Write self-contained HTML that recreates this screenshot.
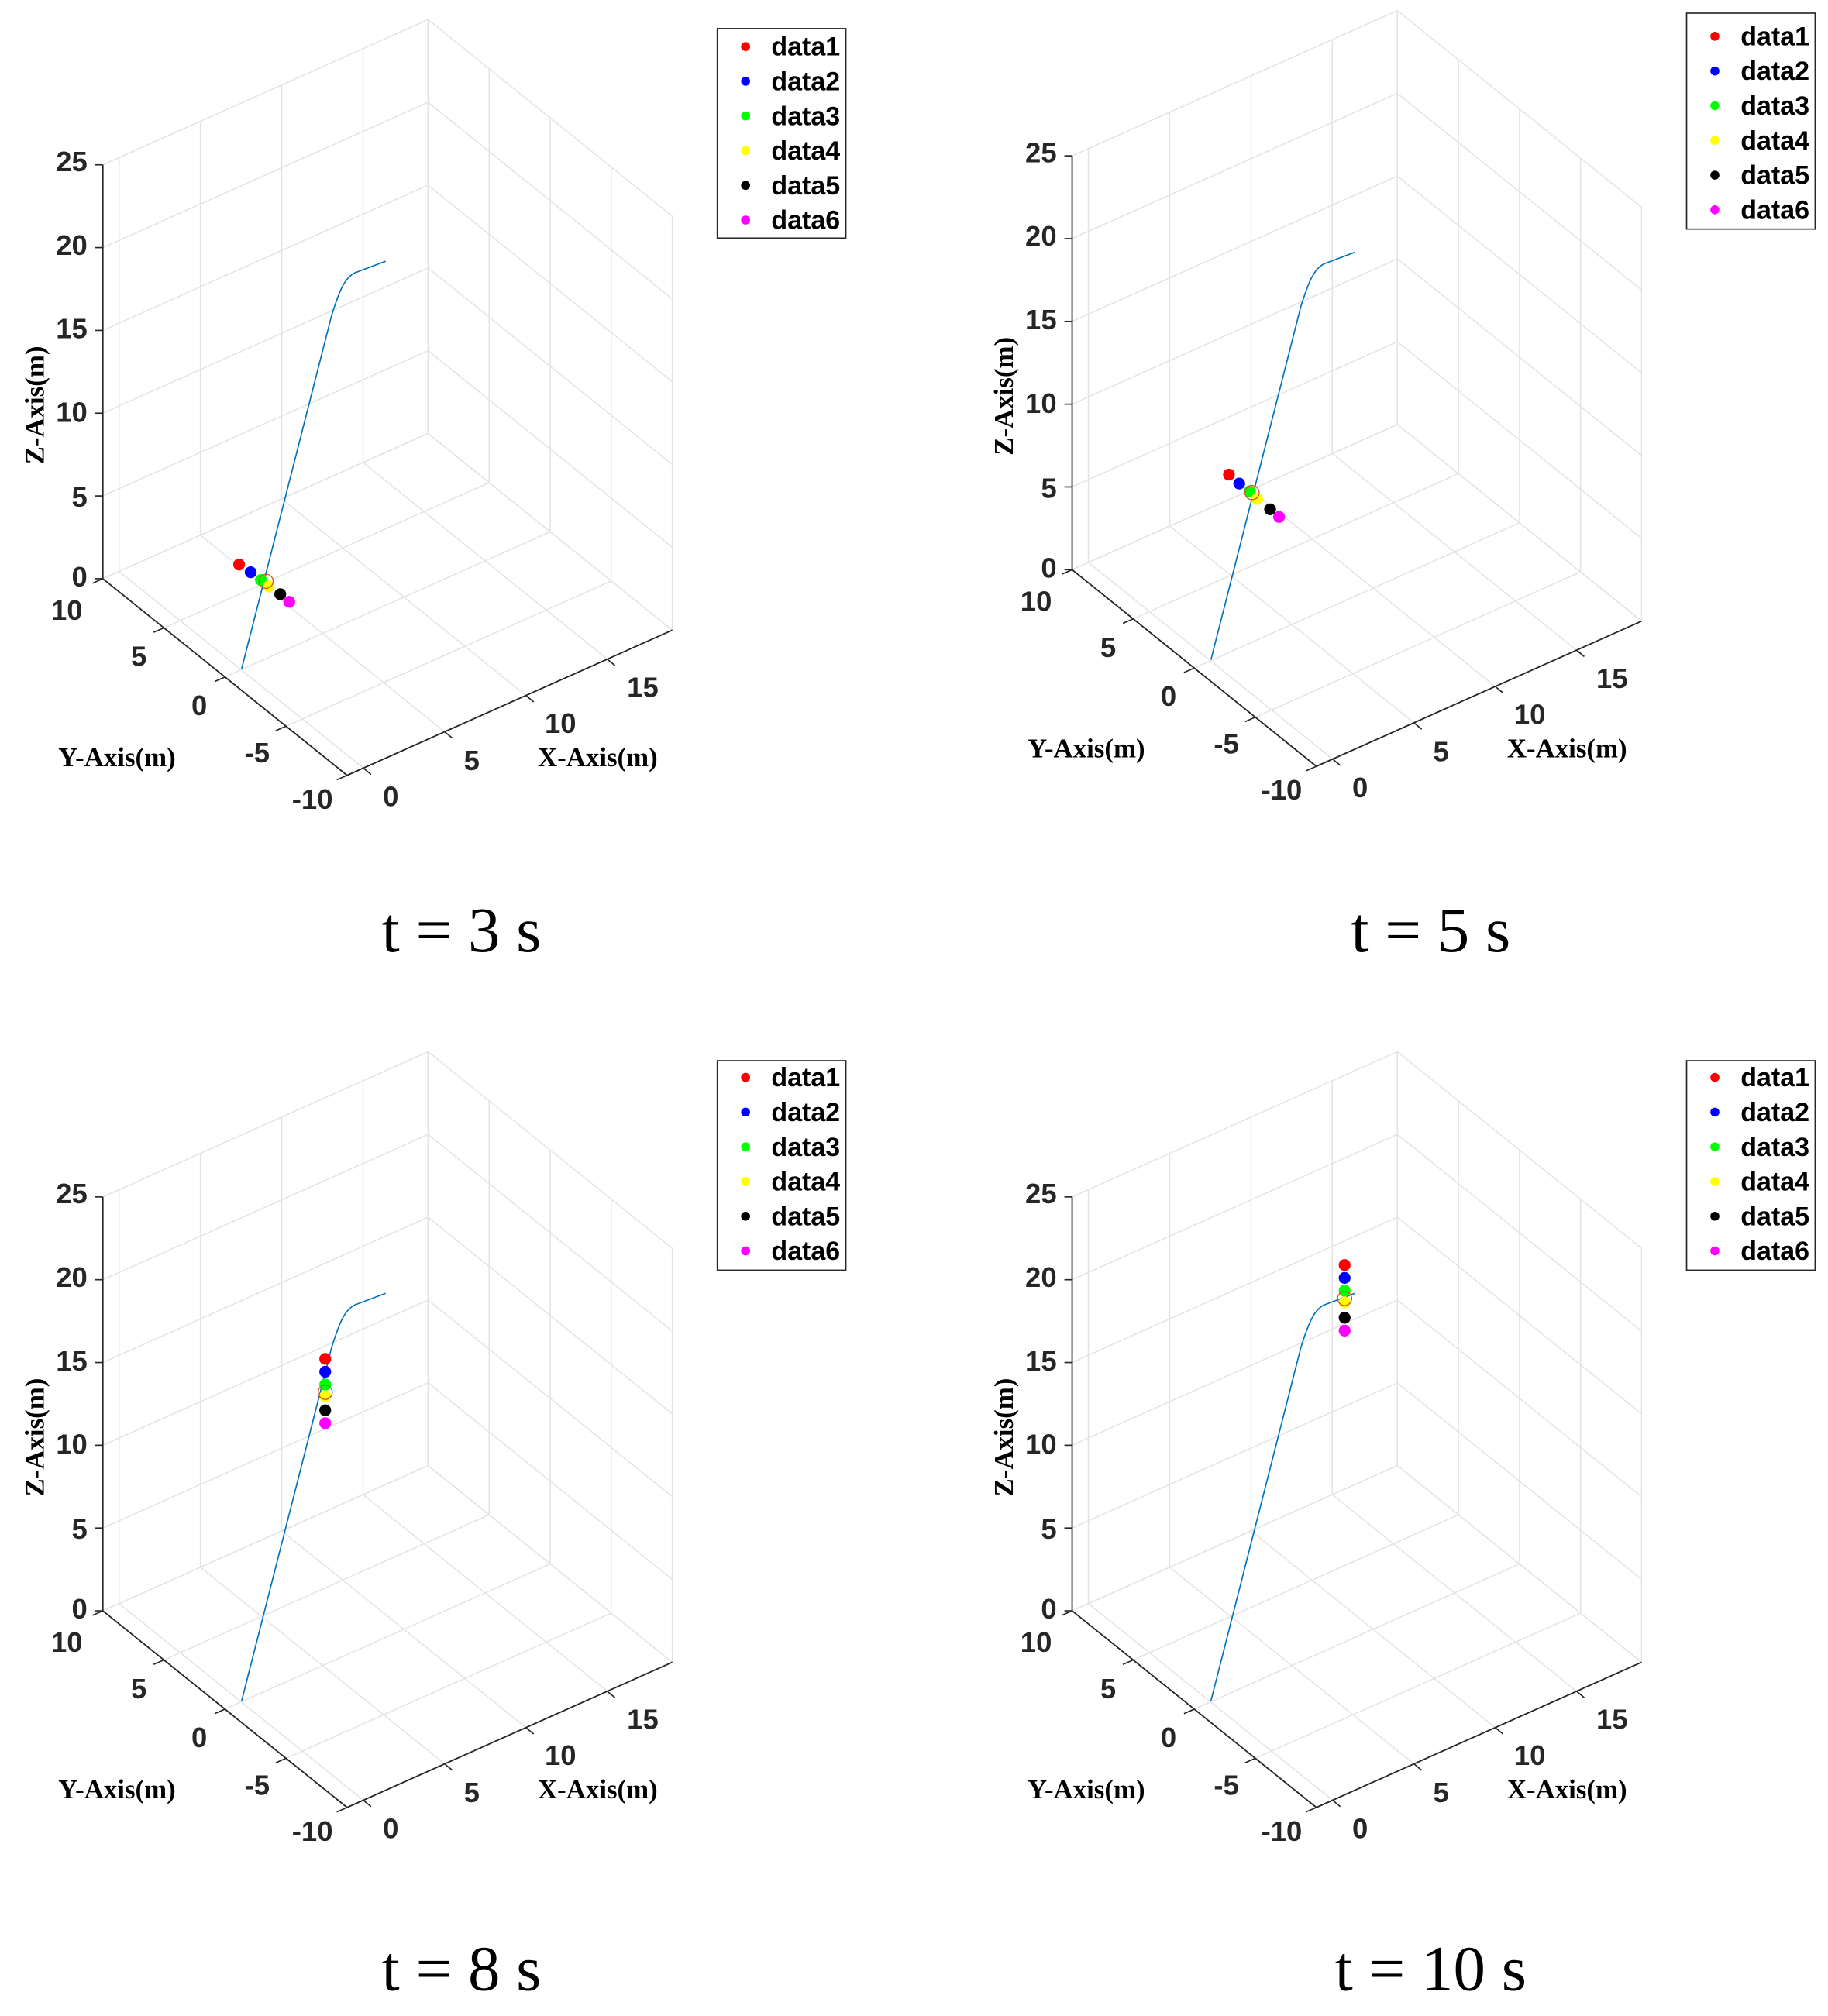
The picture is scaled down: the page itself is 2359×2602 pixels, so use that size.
<!DOCTYPE html>
<html><head><meta charset="utf-8"><style>
html,body{margin:0;padding:0;background:#fff;}
svg{display:block;}
.tk{font-family:"Liberation Sans",sans-serif;font-weight:bold;font-size:22px;fill:#262626;}
.al{font-family:"Liberation Serif",serif;font-weight:bold;font-size:21px;fill:#000;}
.lg{font-family:"Liberation Sans",sans-serif;font-weight:bold;font-size:20.5px;fill:#000;}
.ti{font-family:"Liberation Serif",serif;font-size:50px;fill:#000;}
</style></head><body>
<svg id="s" width="2359" height="2602" viewBox="0 0 1422 1568" xmlns="http://www.w3.org/2000/svg">
<g id="grids"></g>
<g transform="translate(0,0)">
<text class="tk" x="68" y="133" text-anchor="end">25</text>
<text class="tk" x="68" y="198" text-anchor="end">20</text>
<text class="tk" x="68" y="263" text-anchor="end">15</text>
<text class="tk" x="68" y="328" text-anchor="end">10</text>
<text class="tk" x="68" y="394" text-anchor="end">5</text>
<text class="tk" x="68" y="456" text-anchor="end">0</text>
<text class="tk" x="52" y="482" text-anchor="middle">10</text>
<text class="tk" x="108" y="518" text-anchor="middle">5</text>
<text class="tk" x="155" y="556" text-anchor="middle">0</text>
<text class="tk" x="200" y="593" text-anchor="middle">-5</text>
<text class="tk" x="243" y="629" text-anchor="middle">-10</text>
<text class="tk" x="304" y="627" text-anchor="middle">0</text>
<text class="tk" x="367" y="599" text-anchor="middle">5</text>
<text class="tk" x="436" y="570" text-anchor="middle">10</text>
<text class="tk" x="500" y="542" text-anchor="middle">15</text>
<text class="al" x="91" y="596" text-anchor="middle">Y-Axis(m)</text>
<text class="al" x="465" y="596" text-anchor="middle">X-Axis(m)</text>
<text class="al" transform="translate(34,315) rotate(-90)" text-anchor="middle">Z-Axis(m)</text>
<text class="ti" x="359" y="740" text-anchor="middle">t = 3 s</text>
</g>
<g transform="translate(754,-7)">
<text class="tk" x="68" y="133" text-anchor="end">25</text>
<text class="tk" x="68" y="198" text-anchor="end">20</text>
<text class="tk" x="68" y="263" text-anchor="end">15</text>
<text class="tk" x="68" y="328" text-anchor="end">10</text>
<text class="tk" x="68" y="394" text-anchor="end">5</text>
<text class="tk" x="68" y="456" text-anchor="end">0</text>
<text class="tk" x="52" y="482" text-anchor="middle">10</text>
<text class="tk" x="108" y="518" text-anchor="middle">5</text>
<text class="tk" x="155" y="556" text-anchor="middle">0</text>
<text class="tk" x="200" y="593" text-anchor="middle">-5</text>
<text class="tk" x="243" y="629" text-anchor="middle">-10</text>
<text class="tk" x="304" y="627" text-anchor="middle">0</text>
<text class="tk" x="367" y="599" text-anchor="middle">5</text>
<text class="tk" x="436" y="570" text-anchor="middle">10</text>
<text class="tk" x="500" y="542" text-anchor="middle">15</text>
<text class="al" x="91" y="596" text-anchor="middle">Y-Axis(m)</text>
<text class="al" x="465" y="596" text-anchor="middle">X-Axis(m)</text>
<text class="al" transform="translate(34,315) rotate(-90)" text-anchor="middle">Z-Axis(m)</text>
<text class="ti" x="359" y="747" text-anchor="middle">t = 5 s</text>
</g>
<g transform="translate(0,803)">
<text class="tk" x="68" y="133" text-anchor="end">25</text>
<text class="tk" x="68" y="198" text-anchor="end">20</text>
<text class="tk" x="68" y="263" text-anchor="end">15</text>
<text class="tk" x="68" y="328" text-anchor="end">10</text>
<text class="tk" x="68" y="394" text-anchor="end">5</text>
<text class="tk" x="68" y="456" text-anchor="end">0</text>
<text class="tk" x="52" y="482" text-anchor="middle">10</text>
<text class="tk" x="108" y="518" text-anchor="middle">5</text>
<text class="tk" x="155" y="556" text-anchor="middle">0</text>
<text class="tk" x="200" y="593" text-anchor="middle">-5</text>
<text class="tk" x="243" y="629" text-anchor="middle">-10</text>
<text class="tk" x="304" y="627" text-anchor="middle">0</text>
<text class="tk" x="367" y="599" text-anchor="middle">5</text>
<text class="tk" x="436" y="570" text-anchor="middle">10</text>
<text class="tk" x="500" y="542" text-anchor="middle">15</text>
<text class="al" x="91" y="596" text-anchor="middle">Y-Axis(m)</text>
<text class="al" x="465" y="596" text-anchor="middle">X-Axis(m)</text>
<text class="al" transform="translate(34,315) rotate(-90)" text-anchor="middle">Z-Axis(m)</text>
<text class="ti" x="359" y="745" text-anchor="middle">t = 8 s</text>
</g>
<g transform="translate(754,803)">
<text class="tk" x="68" y="133" text-anchor="end">25</text>
<text class="tk" x="68" y="198" text-anchor="end">20</text>
<text class="tk" x="68" y="263" text-anchor="end">15</text>
<text class="tk" x="68" y="328" text-anchor="end">10</text>
<text class="tk" x="68" y="394" text-anchor="end">5</text>
<text class="tk" x="68" y="456" text-anchor="end">0</text>
<text class="tk" x="52" y="482" text-anchor="middle">10</text>
<text class="tk" x="108" y="518" text-anchor="middle">5</text>
<text class="tk" x="155" y="556" text-anchor="middle">0</text>
<text class="tk" x="200" y="593" text-anchor="middle">-5</text>
<text class="tk" x="243" y="629" text-anchor="middle">-10</text>
<text class="tk" x="304" y="627" text-anchor="middle">0</text>
<text class="tk" x="367" y="599" text-anchor="middle">5</text>
<text class="tk" x="436" y="570" text-anchor="middle">10</text>
<text class="tk" x="500" y="542" text-anchor="middle">15</text>
<text class="al" x="91" y="596" text-anchor="middle">Y-Axis(m)</text>
<text class="al" x="465" y="596" text-anchor="middle">X-Axis(m)</text>
<text class="al" transform="translate(34,315) rotate(-90)" text-anchor="middle">Z-Axis(m)</text>
<text class="ti" x="359" y="745" text-anchor="middle">t = 10 s</text>
</g>
<g transform="translate(558,22)">
<rect x="0" y="0" width="100" height="163" fill="#fff" stroke="#262626" stroke-width="1"/>
<circle cx="22" cy="14" r="3.5" fill="#f00"/><text class="lg" x="42" y="21">data1</text>
<circle cx="22" cy="41" r="3.5" fill="#00f"/><text class="lg" x="42" y="48">data2</text>
<circle cx="22" cy="68" r="3.5" fill="#0f0"/><text class="lg" x="42" y="75">data3</text>
<circle cx="22" cy="95" r="3.5" fill="#ff0"/><text class="lg" x="42" y="102">data4</text>
<circle cx="22" cy="122" r="3.5" fill="#000"/><text class="lg" x="42" y="129">data5</text>
<circle cx="22" cy="149" r="3.5" fill="#f0f"/><text class="lg" x="42" y="156">data6</text>
</g>
<g transform="translate(1312,10)">
<rect x="0" y="0" width="100" height="168" fill="#fff" stroke="#262626" stroke-width="1"/>
<circle cx="22" cy="18" r="3.5" fill="#f00"/><text class="lg" x="42" y="25">data1</text>
<circle cx="22" cy="45" r="3.5" fill="#00f"/><text class="lg" x="42" y="52">data2</text>
<circle cx="22" cy="72" r="3.5" fill="#0f0"/><text class="lg" x="42" y="79">data3</text>
<circle cx="22" cy="99" r="3.5" fill="#ff0"/><text class="lg" x="42" y="106">data4</text>
<circle cx="22" cy="126" r="3.5" fill="#000"/><text class="lg" x="42" y="133">data5</text>
<circle cx="22" cy="153" r="3.5" fill="#f0f"/><text class="lg" x="42" y="160">data6</text>
</g>
<g transform="translate(558,825)">
<rect x="0" y="0" width="100" height="163" fill="#fff" stroke="#262626" stroke-width="1"/>
<circle cx="22" cy="13" r="3.5" fill="#f00"/><text class="lg" x="42" y="20">data1</text>
<circle cx="22" cy="40" r="3.5" fill="#00f"/><text class="lg" x="42" y="47">data2</text>
<circle cx="22" cy="67" r="3.5" fill="#0f0"/><text class="lg" x="42" y="74">data3</text>
<circle cx="22" cy="94" r="3.5" fill="#ff0"/><text class="lg" x="42" y="101">data4</text>
<circle cx="22" cy="121" r="3.5" fill="#000"/><text class="lg" x="42" y="128">data5</text>
<circle cx="22" cy="148" r="3.5" fill="#f0f"/><text class="lg" x="42" y="155">data6</text>
</g>
<g transform="translate(1312,825)">
<rect x="0" y="0" width="100" height="163" fill="#fff" stroke="#262626" stroke-width="1"/>
<circle cx="22" cy="13" r="3.5" fill="#f00"/><text class="lg" x="42" y="20">data1</text>
<circle cx="22" cy="40" r="3.5" fill="#00f"/><text class="lg" x="42" y="47">data2</text>
<circle cx="22" cy="67" r="3.5" fill="#0f0"/><text class="lg" x="42" y="74">data3</text>
<circle cx="22" cy="94" r="3.5" fill="#ff0"/><text class="lg" x="42" y="101">data4</text>
<circle cx="22" cy="121" r="3.5" fill="#000"/><text class="lg" x="42" y="128">data5</text>
<circle cx="22" cy="148" r="3.5" fill="#f0f"/><text class="lg" x="42" y="155">data6</text>
</g>
</svg>
<script>
(function(){
var NS="http://www.w3.org/2000/svg",G=document.getElementById("grids");
function P(x,y,z){return [80+(x+1)*12.65+(10-y)*9.5, 450-(x+1)*5.65+(10-y)*7.65-z*12.88];}
function ln(g,a,b,c,w){var e=document.createElementNS(NS,"line");e.setAttribute("x1",a[0]);e.setAttribute("y1",a[1]);e.setAttribute("x2",b[0]);e.setAttribute("y2",b[1]);e.setAttribute("stroke",c);e.setAttribute("stroke-width",w);g.appendChild(e);}
function ci(g,x,y,r,c,st){var e=document.createElementNS(NS,"circle");e.setAttribute("cx",x);e.setAttribute("cy",y);e.setAttribute("r",r);if(st){e.setAttribute("fill","none");e.setAttribute("stroke",c);e.setAttribute("stroke-width",0.8);}else e.setAttribute("fill",c);g.appendChild(e);}
var offs=[[0,0],[754,-7],[0,803],[754,803]];
var mk=[
 [[186,439],[195,445],[203,451],[209,456],[218,462],[225,468]],
 [[202,376],[210,383],[218,389],[224,395],[234,403],[241,409]],
 [[253,254],[253,264],[253,274],[253,283],[253,294],[253,304]],
 [[292,181],[292,191],[292,201],[292,210],[292,222],[292,232]]];
var ring=[[207,452],[220,390],[253,280],[292,207]];
var cols=["#f00","#00f","#0f0","#ff0","#000","#f0f"];
offs.forEach(function(o,i){
 var g=document.createElementNS(NS,"g");g.setAttribute("transform","translate("+o[0]+","+o[1]+")");G.appendChild(g);
 var gc="#e3e3e3",gw=0.9,xs=[-1,0,5,10,15,19],ys=[-10,-5,0,5,10],zs=[0,5,10,15,20,25];
 xs.forEach(function(x){ln(g,P(x,10,0),P(x,10,25),gc,gw);ln(g,P(x,10,0),P(x,-10,0),gc,gw);});
 ys.forEach(function(y){ln(g,P(19,y,0),P(19,y,25),gc,gw);ln(g,P(-1,y,0),P(19,y,0),gc,gw);});
 zs.forEach(function(z){ln(g,P(-1,10,z),P(19,10,z),gc,gw);ln(g,P(19,10,z),P(19,-10,z),gc,gw);});
 var ac="#262626";
 ln(g,P(-1,10,0),P(-1,10,25),ac,1.1);
 ln(g,P(-1,10,0),P(-1,-10,0),ac,1.1);
 ln(g,P(-1,-10,0),P(19,-10,0),ac,1.1);
 zs.forEach(function(z){var a=P(-1,10,z);ln(g,a,[a[0]-6,a[1]],ac,1);});
 ys.forEach(function(y){var a=P(-1,y,0);ln(g,a,[a[0]-8,a[1]+3.5],ac,1);});
 [0,5,10,15].forEach(function(x){var a=P(x,-10,0);ln(g,a,[a[0]+6,a[1]+5],ac,1);});
 var p=document.createElementNS(NS,"path");
 p.setAttribute("d","M188,520 L258,245 C264,226 268,216 276,212 L300,203");
 p.setAttribute("fill","none");p.setAttribute("stroke","#0072bd");p.setAttribute("stroke-width",1);g.appendChild(p);
 mk[i].forEach(function(m,j){ci(g,m[0],m[1],4.6,cols[j]);});
 ci(g,ring[i][0],ring[i][1],5.5,"#d95319",true);
});
})();
</script>
</body></html>
